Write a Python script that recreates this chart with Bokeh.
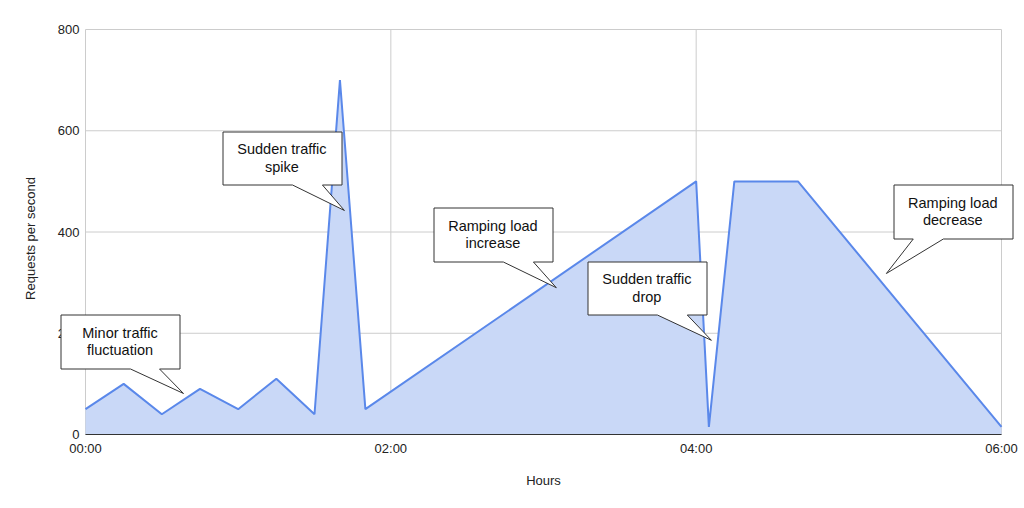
import math
from bokeh.plotting import figure
from bokeh.models import PolyAnnotation, Label, Range1d
from bokeh.core.properties import value
from bokeh.embed import file_html
from bokeh.resources import INLINE

# ---- data ----
times = ["00:00", "00:15", "00:30", "00:45", "01:00", "01:15", "01:30", "01:40",
         "01:50", "04:00", "04:05", "04:15", "04:40", "06:00"]
requests = [50, 100, 40, 90, 50, 110, 40, 700, 50, 500, 15, 500, 500, 15]
x_ticks = [0, 2, 4, 6]
x_tick_labels = ["00:00", "02:00", "04:00", "06:00"]
y_ticks = [0, 200, 400, 600, 800]
y_tick_labels = ["0", "200", "400", "600", "800"]
x_title = "Hours"
y_title = "Requests per second"

# callouts: text, box (left, right, bottom, top) in data units, pointer base x0,x1, tip (x,y)
callout_texts = ["Minor traffic\nfluctuation", "Sudden traffic\nspike",
                 "Ramping load\nincrease", "Sudden traffic\ndrop", "Ramping load\ndecrease"]
callout_boxes = [(-0.164, 0.616, 130, 237), (0.897, 1.676, 494, 598.5),
                 (2.279, 3.058, 342, 448), (3.287, 4.067, 237, 342),
                 (5.291, 6.071, 387, 494)]
callout_bases = [(0.295, 0.485), (1.356, 1.552), (2.737, 2.934), (3.746, 3.942), (5.422, 5.619)]
callout_tips = [(0.642, 81), (1.696, 442.5), (3.084, 290), (4.10, 186), (5.246, 318)]


def to_hours(t):
    h, m = t.split(":")
    return int(h) + int(m) / 60.0


hours = [to_hours(t) for t in times]

# ---- layout (pixels on the canvas) ----
W, H = 1022, 500
PLOT_L, PLOT_R, PLOT_T, PLOT_B = 85, 1001, 29, 434
X0, X1 = x_ticks[0], x_ticks[-1]
Y0, Y1 = y_ticks[0], y_ticks[-1]
sx = (PLOT_R - PLOT_L) / (X1 - X0)
sy = (PLOT_B - PLOT_T) / (Y1 - Y0)
x_start = X0 - PLOT_L / sx
x_end = X0 + (W - PLOT_L) / sx
y_end = Y0 + PLOT_B / sy
y_start = Y0 - (H - PLOT_B) / sy


def snap_x(x):
    px = (x - x_start) * sx
    return x_start + (round(px) + 0.5) / sx


def snap_y(y):
    py = (y_end - y) * sy
    return y_end - (round(py) + 0.5) / sy


FONT = "Liberation Sans"
GRID = "#cccccc"

p = figure(width=W, height=H, output_backend="svg", toolbar_location=None,
           min_border=0, x_axis_location=None, y_axis_location=None,
           x_range=Range1d(x_start, x_end), y_range=Range1d(y_start, y_end))
p.outline_line_color = None
p.grid.visible = False
p.background_fill_color = "white"

# grid
p.segment(x0=x_ticks, y0=[Y0] * len(x_ticks), x1=x_ticks, y1=[Y1] * len(x_ticks),
          line_color=GRID, line_width=1)
p.segment(x0=[X0] * len(y_ticks), y0=y_ticks, x1=[X1] * len(y_ticks), y1=y_ticks,
          line_color=GRID, line_width=1)

# data
p.varea(x=hours, y1=0, y2=requests, fill_color="#c9d8f7", fill_alpha=1.0)
p.line(x=hours, y=requests, line_color="#5a88ea", line_width=2)

# baseline
p.segment(x0=[X0], y0=[Y0], x1=[X1], y1=[Y0], line_color="#333333", line_width=1.2)

# tick labels
p.text(x=x_ticks, y=[Y0] * len(x_ticks), text=x_tick_labels, y_offset=6,
       text_align="center", text_baseline="top", text_font=value(FONT),
       text_font_size="13px", text_color="#222222")
p.text(x=[X0] * len(y_ticks), y=y_ticks, text=y_tick_labels, x_offset=-6,
       text_align="right", text_baseline="middle", text_font=value(FONT),
       text_font_size="13px", text_color="#222222")

# axis titles
p.text(x=[(X0 + X1) / 2], y=[Y0 - 46 / sy], text=[x_title], text_align="center",
       text_baseline="middle", text_font=value(FONT), text_font_size="13px",
       text_color="#222222")
p.text(x=[X0 - 55 / sx], y=[Y0 + (PLOT_B - 238) / sy], text=[y_title], angle=math.pi / 2,
       text_align="center", text_baseline="middle", text_font=value(FONT),
       text_font_size="13px", text_color="#222222")

# callouts
for text, (l, r, b, t), (bx0, bx1), (tx, ty) in zip(callout_texts, callout_boxes,
                                                      callout_bases, callout_tips):
    L, R, B, T = snap_x(l), snap_x(r), snap_y(b), snap_y(t)
    xs = [L, R, R, bx1, tx, bx0, L]
    ys = [T, T, B, B, ty, B, B]
    p.add_layout(PolyAnnotation(xs=xs, ys=ys, fill_color="white", fill_alpha=1.0,
                                line_color="#333333", line_alpha=1.0, line_width=1))
    p.add_layout(Label(x=(l + r) / 2, y=(b + t) / 2, text=text, text_align="center",
                       text_baseline="middle", text_font=FONT, text_font_size="14.5px",
                       text_color="#111111", text_line_height=1.1))

open("out.html", "w").write(file_html(p, INLINE))
